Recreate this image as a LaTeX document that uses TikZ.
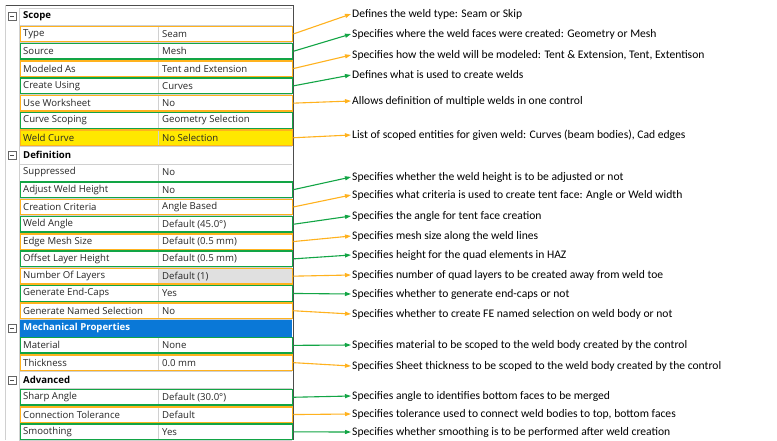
\documentclass[tikz,border=0pt]{standalone}
\usepackage{fontspec}
\setmainfont{Open Sans}
\newfontfamily\annf{Carlito}
\usetikzlibrary{arrows.meta}
\definecolor{og}{HTML}{FFB21E}
\definecolor{gn}{HTML}{12A545}
\definecolor{blu}{HTML}{0A78D7}
\definecolor{ylw}{HTML}{FFE800}
\definecolor{grd}{HTML}{D0D0D0}
\begin{document}
\begin{tikzpicture}[x=1pt,y=-1pt,
  cell/.style={font=\fontsize{9.6}{10}\selectfont,anchor=west,inner sep=0pt,text=black!85},
  hdr/.style={font=\fontsize{9.6}{10}\selectfont\bfseries,anchor=west,inner sep=0pt},
  ann/.style={font=\annf\fontsize{11.6}{13}\selectfont,anchor=west,inner sep=1pt},
  box/.style={draw,line width=1.4pt,minimum width=272pt,minimum height=15.5pt,inner sep=0pt,anchor=west},
  arr/.style={line width=1.1pt,-{Triangle[length=6pt,width=4pt]}}]
\useasboundingbox (0,0) rectangle (777,440);
\fill[white] (0,0) rectangle (777,440);
\def\rh{17.3}
% frame
\draw[black!70] (5,5) -- (293,5) -- (293,440);
\draw[grd] (5,5) -- (5,440);
% special fills
\fill[ylw] (19,{8+7*\rh}) rectangle (292,{8+8*\rh});
\fill[blu] (19,{8+18*\rh}) rectangle (292,{8+19*\rh});
\fill[black!12] (158,{8+15*\rh}) rectangle (292,{8+16*\rh});
% grid
\foreach \i in {0,...,25}{\draw[grd] (19,{8+\i*\rh}) -- (292,{8+\i*\rh});}
\draw[grd] (19,8) -- (19,440);
\foreach \a/\b in {1/8,9/18,19/21,22/25}{\draw[grd] (158,{8+\a*\rh}) -- (158,{8+\b*\rh});}
% headers
\foreach \i/\t in {0/Scope,8/Definition,21/Advanced}{
  \node[hdr] (h\i) at (23,{8+\i*\rh+8.65}) {\t};
  \draw[black!60,fill=white] (8,{8+\i*\rh+4.5}) rectangle (16,{8+\i*\rh+12.5});
  \draw[black!70] (10,{8+\i*\rh+8.5}) -- (14,{8+\i*\rh+8.5});}
\node[hdr,text=white] (h18) at (23,{8+18*\rh+8.65}) {Mechanical Properties};
\draw[black!60,fill=white] (8,{8+18*\rh+4.5}) rectangle (16,{8+18*\rh+12.5});
\draw[black!70] (10,{8+18*\rh+8.5}) -- (14,{8+18*\rh+8.5});
% rows
\foreach \i/\n/\v in {1/Type/Seam,2/Source/Mesh,3/Modeled As/Tent and Extension,4/Create Using/Curves,5/Use Worksheet/No,6/Curve Scoping/Geometry Selection,7/Weld Curve/No Selection,9/Suppressed/No,10/Adjust Weld Height/No,11/Creation Criteria/Angle Based,12/Weld Angle/Default (45.0°),13/Edge Mesh Size/Default (0.5 mm),14/Offset Layer Height/Default (0.5 mm),15/Number Of Layers/Default (1),16/Generate End-Caps/Yes,17/Generate Named Selection/No,19/Material/None,20/Thickness/0.0 mm,22/Sharp Angle/Default (30.0°),23/Connection Tolerance/Default,24/Smoothing/Yes}{
  \node[cell] (n\i) at (23,{8+\i*\rh+8.65}) {\n};
  \node[cell] (v\i) at (162,{8+\i*\rh+8.65}) {\v};}
% boxes and annotations
\foreach \i/\c/\y/\t in {
1/og/14/Defines the weld type: Seam or Skip,
2/gn/34/Specifies where the weld faces were created: Geometry or Mesh,
3/og/55/{Specifies how the weld will be modeled: Tent \& Extension, Tent, Extentison},
4/gn/75/Defines what is used to create welds,
5/og/101/Allows definition of multiple welds in one control,
7/og/135/{List of scoped entities for given weld: Curves (beam bodies), Cad edges},
10/gn/177/Specifies whether the weld height is to be adjusted or not,
11/og/195/Specifies what criteria is used to create tent face: Angle or Weld width,
12/gn/216/Specifies the angle for tent face creation,
13/og/236/Specifies mesh size along the weld lines,
14/gn/255/Specifies height for the quad elements in HAZ,
15/og/275/Specifies number of quad layers to be created away from weld toe,
16/gn/294/Specifies whether to generate end-caps or not,
17/og/314/Specifies whether to create FE named selection on weld body or not,
19/gn/345/Specifies material to be scoped to the weld body created by the control,
20/og/366/Specifies Sheet thickness to be scoped to the weld body created by the control,
22/gn/396/Specifies angle to identifies bottom faces to be merged,
23/og/414/{Specifies tolerance used to connect weld bodies to top, bottom faces},
24/gn/432/Specifies whether smoothing is to be performed after weld creation}{
  \node[box,draw=\c] (b\i) at (20,{8+\i*\rh+8.65}) {};
  \node[ann] (a\i) at (351,\y) {\t};
  \draw[arr,\c] (b\i.east) -- (a\i.west);}
\node[box,draw=gn] (b6) at (20,{8+6*\rh+8.65}) {};
\end{tikzpicture}
\end{document}
